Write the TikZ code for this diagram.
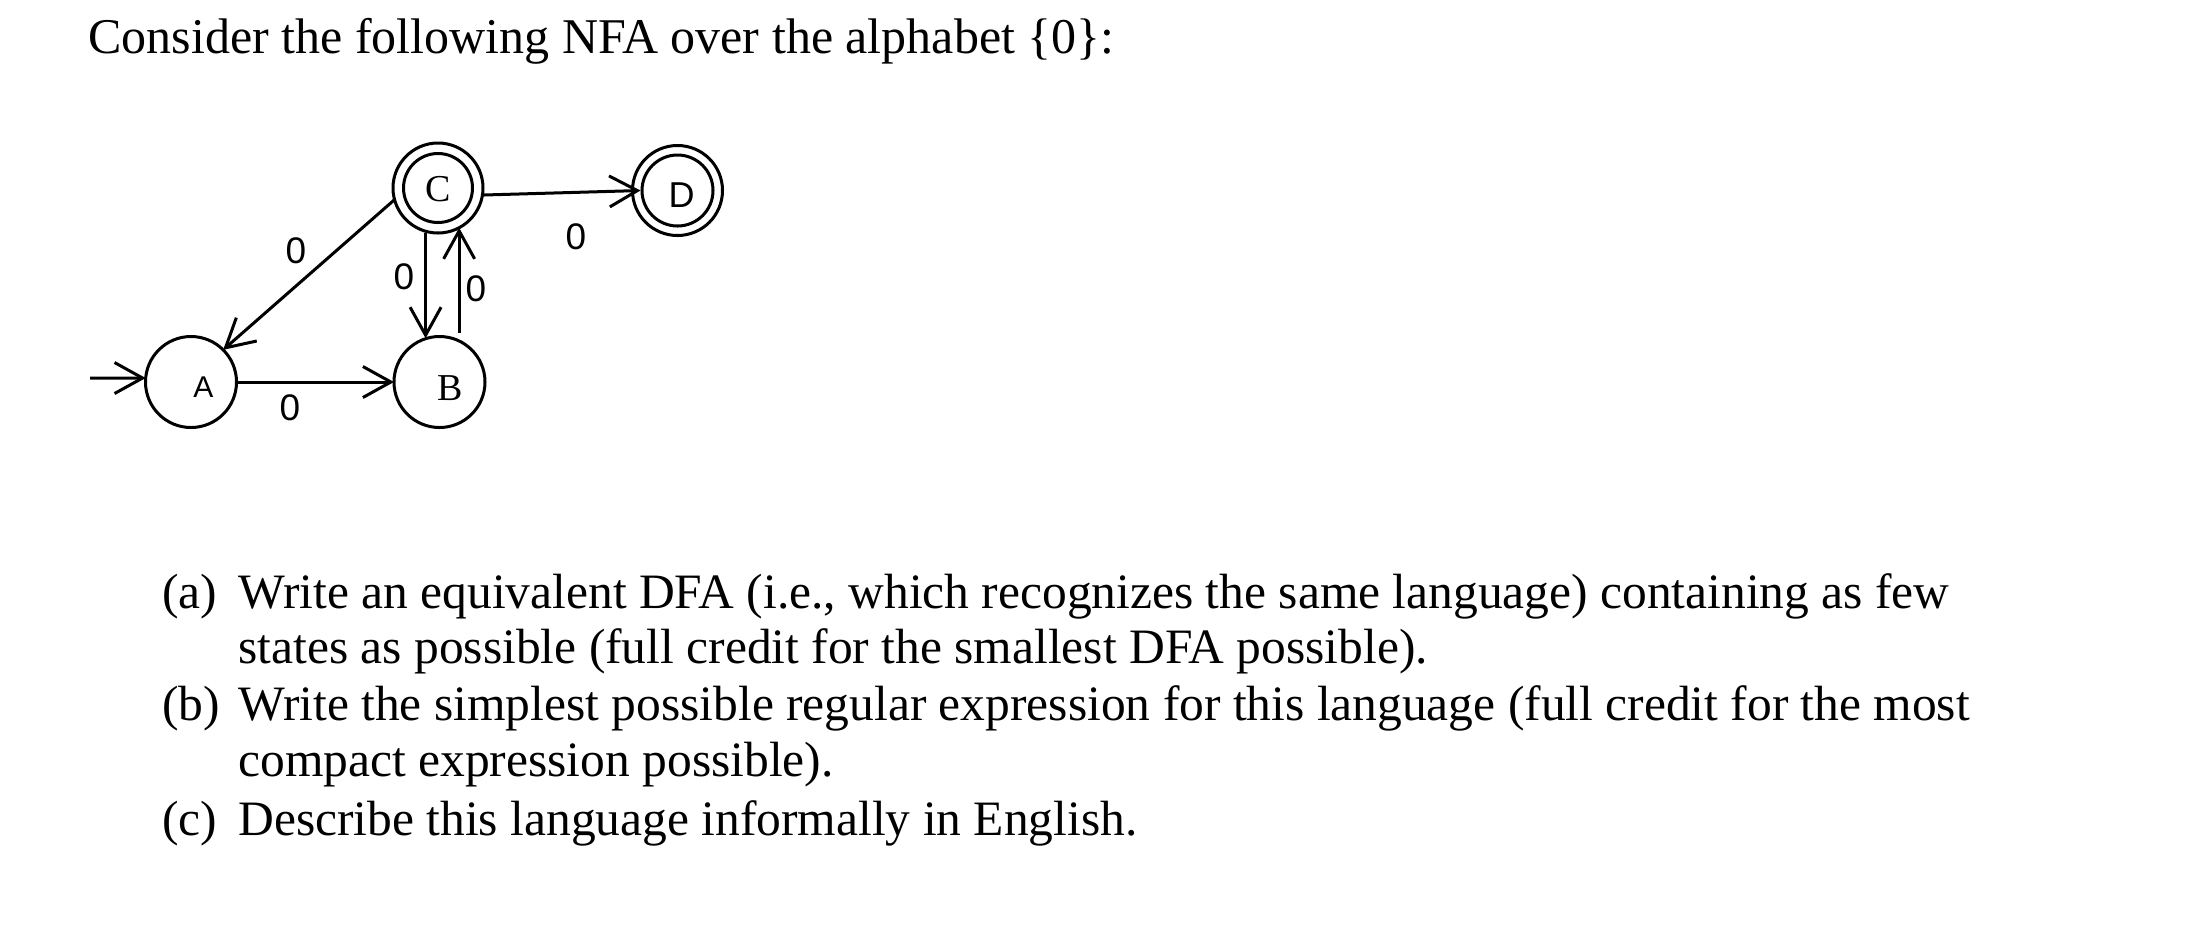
\documentclass[tikz,border=0pt]{standalone}
\usepackage{fontspec}
\setmainfont{Liberation Serif}
\newfontfamily\lsans{Liberation Sans}
\usetikzlibrary{arrows.meta}
\tikzset{
  state/.style={circle, draw, line width=1.5pt, minimum size=45.5pt, inner sep=0pt, outer sep=0pt},
  arr/.style={line width=1.5pt, -{Straight Barb[length=14pt,width=15.5pt,line width=1.5pt]}},
  elabel/.style={inner sep=0pt, font=\lsans\fontsize{18.5pt}{21pt}\selectfont},
  serifst/.style={inner sep=0pt, font=\fontsize{19pt}{22pt}\selectfont},
  sansst/.style={inner sep=0pt, font=\lsans\fontsize{18pt}{20pt}\selectfont},
  sansA/.style={inner sep=0pt, font=\lsans\fontsize{15pt}{17pt}\selectfont},
  title/.style={anchor=base west, inner sep=0pt, font=\fontsize{25pt}{29pt}\selectfont},
  listtxt/.style={anchor=base west, inner sep=0pt, font=\fontsize{24.75pt}{29pt}\selectfont}
}
\begin{document}
\begin{tikzpicture}[x=0.5pt,y=-0.5pt]
\useasboundingbox (0,0) rectangle (2188,934);
% title
\node[title] (t) at (88,53) {Consider the following NFA over the alphabet \{0\}:};
% states
\node[state] (A) at (191,382) {};
\node[state] (B) at (439.5,382) {};
\node[state, minimum size=45pt] (C) at (438,188) {};
\node[state, minimum size=45pt] (D) at (677.5,190.5) {};
\draw[line width=1.5pt] (C.center) circle[radius=17.25pt];
\draw[line width=1.5pt] (D.center) circle[radius=17.75pt];
% state letters
\node[sansA] (la) at (203.5,387) {A};
\node[serifst] (lb) at (450,388.5) {B};
\node[serifst] (lc) at (438.5,189.5) {C};
\node[sansst] (ld) at (681.5,195) {D};
% edges
\coordinate (s) at (90,378);
\draw[arr] (s) -- (A.175);
\draw[arr] (A.east) -- (B.west);
\draw[arr] (C.195) -- (A.45);
\draw[arr, shorten <=1pt] (C.254) -- (C.254 |- B.106);
\draw[arr, shorten <=4pt] (C.298 |- B.65) -- (C.298);
\draw[arr] (C.-9) -- ([xshift=4pt]D.west);
% edge labels
\node[elabel] (e1) at (296,251) {0};
\node[elabel] (e2) at (404,277) {0};
\node[elabel] (e3) at (476,289) {0};
\node[elabel] (e4) at (576,237) {0};
\node[elabel] (e5) at (290,408) {0};
% list
\node[listtxt] (la1) at (162,608) {(a)};
\node[listtxt] (l1) at (238,608) {Write an equivalent DFA (i.e., which recognizes the same language) containing as few};
\node[listtxt] (l2) at (238,663) {states as possible (full credit for the smallest DFA possible).};
\node[listtxt] (lb1) at (162,720) {(b)};
\node[listtxt] (l3) at (238,720) {Write the simplest possible regular expression for this language (full credit for the most};
\node[listtxt] (l4) at (238,776) {compact expression possible).};
\node[listtxt] (lc1) at (162,835) {(c)};
\node[listtxt] (l5) at (238,835) {Describe this language informally in English.};
\end{tikzpicture}
\end{document}
